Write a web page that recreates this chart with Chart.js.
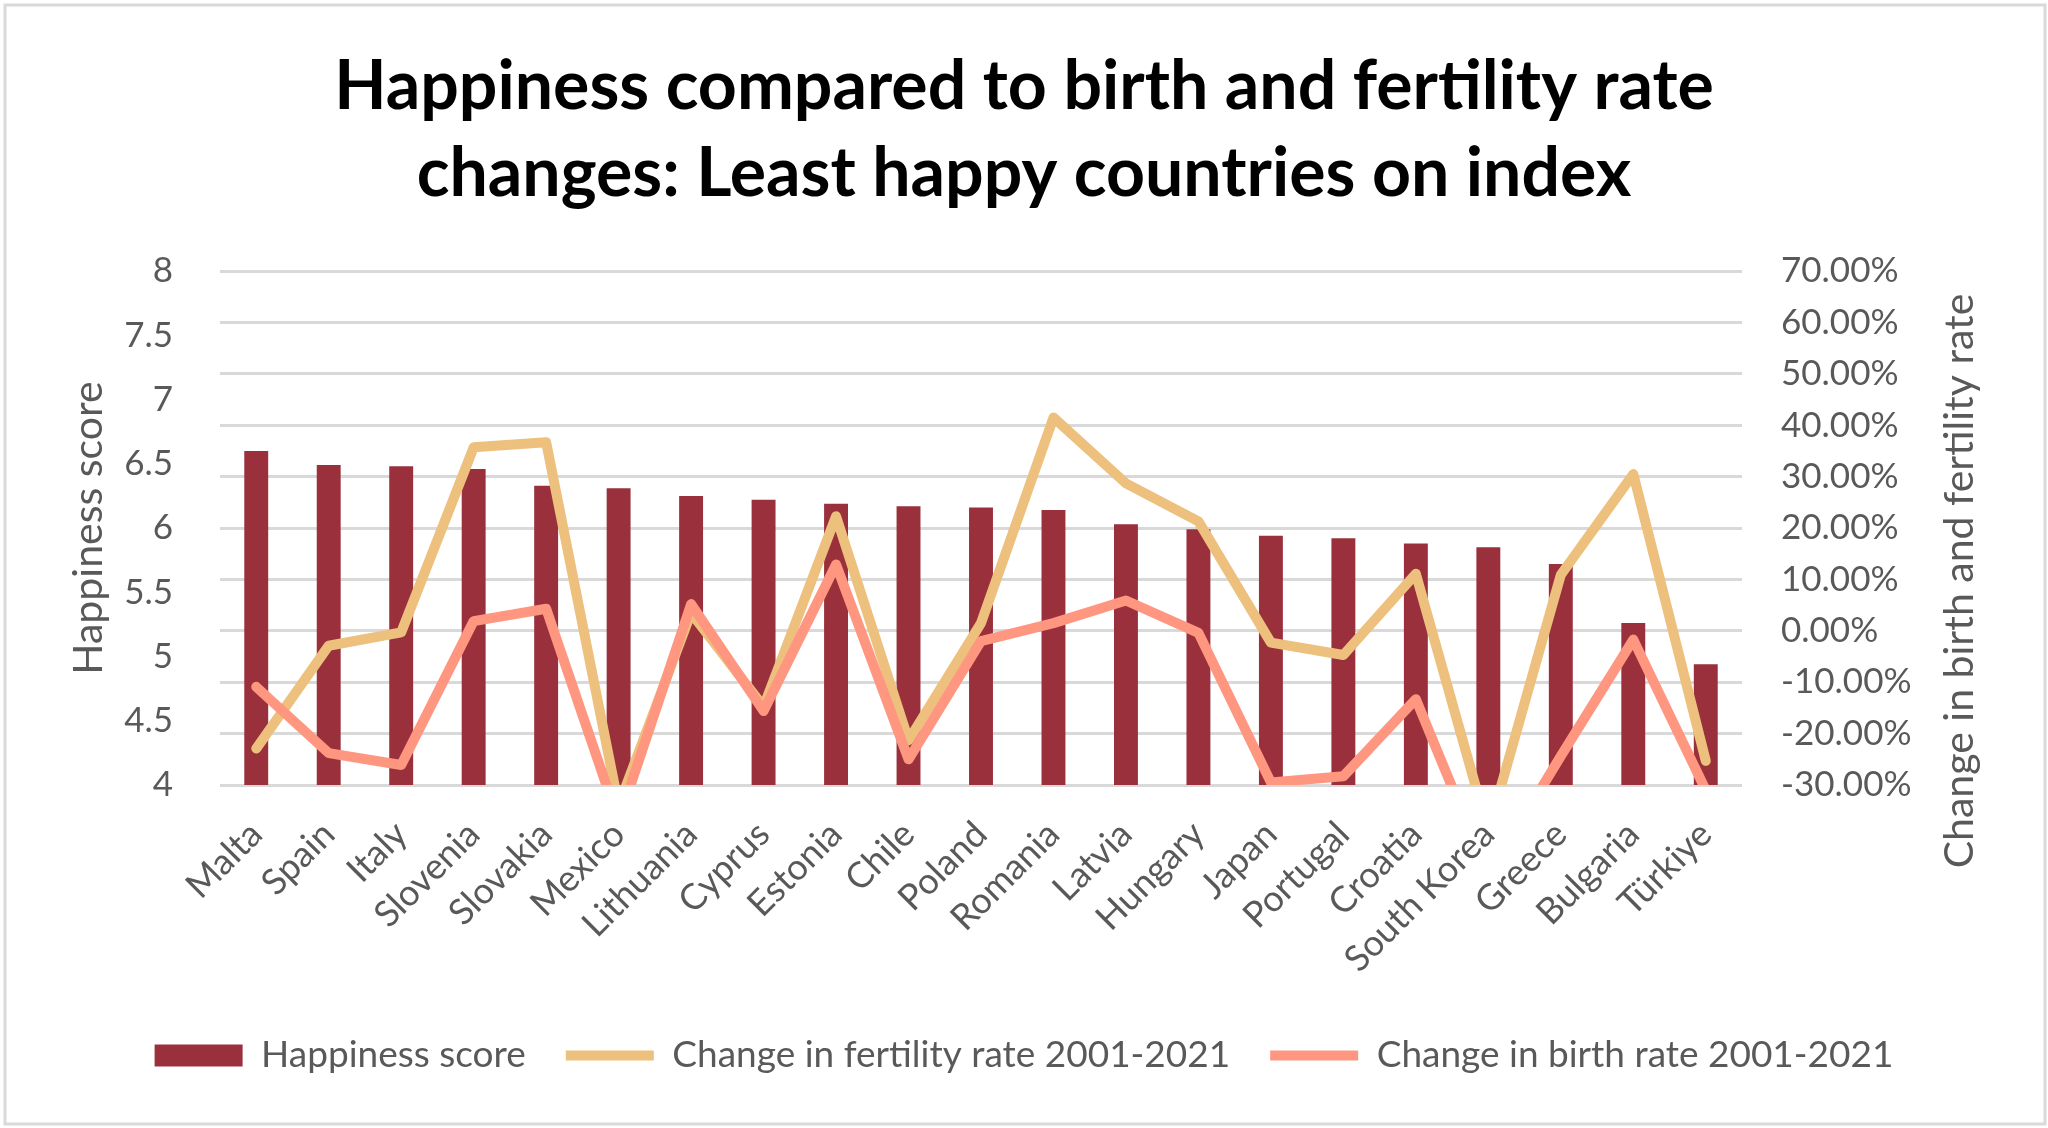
<!DOCTYPE html>
<html>
<head>
<meta charset="utf-8">
<title>Happiness compared to birth and fertility rate changes</title>
<script src="https://cdn.jsdelivr.net/npm/chart.js@4.4.1/dist/chart.umd.min.js"></script>
<style>
  html, body { margin: 0; padding: 0; background: #ffffff; }
  #wrap { position: relative; width: 2048px; height: 1128px; }
</style>
</head>
<body>
<div id="wrap"><canvas id="happinessChart"></canvas></div>
<script>
// Countries, least happy end of the index
const countries = ['Malta', 'Spain', 'Italy', 'Slovenia', 'Slovakia', 'Mexico', 'Lithuania',
    'Cyprus', 'Estonia', 'Chile', 'Poland', 'Romania', 'Latvia', 'Hungary', 'Japan',
    'Portugal', 'Croatia', 'South Korea', 'Greece', 'Bulgaria', 'Türkiye'];

// Happiness score (left axis)
const happinessScore = [6.60, 6.49, 6.48, 6.46, 6.33, 6.31, 6.25, 6.22, 6.19, 6.17, 6.16,
    6.14, 6.03, 5.99, 5.94, 5.92, 5.88, 5.85, 5.72, 5.26, 4.94];

// Change in fertility rate 2001-2021, percent (right axis)
const fertilityChange = [-22.9, -2.9, -0.3, 35.7, 36.7, -34.0, 3.5, -14.8, 22.3, -21.3, 1.5,
    41.5, 28.7, 21.3, -2.3, -4.7, 11.1, -39.0, 10.9, 30.5, -25.3];

// Change in birth rate 2001-2021, percent (right axis)
const birthChange = [-10.9, -23.8, -26.1, 1.9, 4.3, -37.0, 5.2, -15.6, 12.9, -25.0, -2.0,
    1.5, 5.9, -0.4, -29.5, -28.3, -13.3, -47.5, -24.4, -1.7, -31.0];

const titleLines = ['Happiness compared to birth and fertility rate',
    'changes: Least happy countries on index'];
const leftAxisTitle = 'Happiness score';
const rightAxisTitle = 'Change in birth and fertility rate';

const FONT = 'Lato, "Open Sans", sans-serif';
const GREY_TEXT = '#595959';

// Light frame round the whole picture
const framePlugin = {
    id: 'frame',
    beforeDraw(chart) {
        const ctx = chart.ctx;
        ctx.save();
        ctx.strokeStyle = '#d9d9d9';
        ctx.lineWidth = 3;
        ctx.strokeRect(5, 5, chart.width - 8, chart.height - 9);
        ctx.restore();
    }
};

// Right axis title reads bottom to top, which Chart.js does not do itself
const rightTitlePlugin = {
    id: 'rightTitle',
    afterDraw(chart) {
        const ctx = chart.ctx;
        ctx.save();
        ctx.translate(1960, 581);
        ctx.rotate(-Math.PI / 2);
        ctx.font = '41px ' + FONT;
        ctx.fillStyle = GREY_TEXT;
        ctx.textAlign = 'center';
        ctx.textBaseline = 'middle';
        ctx.fillText(rightAxisTitle, 0, 0);
        ctx.restore();
    }
};

const ctx = document.getElementById('happinessChart').getContext('2d');

new Chart(ctx, {
    type: 'bar',
    data: {
        labels: countries,
        datasets: [
            {
                type: 'bar',
                label: 'Happiness score',
                data: happinessScore,
                backgroundColor: '#99303c',
                borderWidth: 0,
                barPercentage: 0.33,
                categoryPercentage: 1,
                yAxisID: 'y',
                pointStyle: 'rect',
                order: 2
            },
            {
                type: 'line',
                label: 'Change in fertility rate 2001-2021',
                data: fertilityChange,
                borderColor: '#edc07e',
                backgroundColor: '#edc07e',
                borderWidth: 10,
                borderJoinStyle: 'round',
                borderCapStyle: 'round',
                pointRadius: 0,
                pointStyle: 'line',
                tension: 0,
                clip: 0,
                yAxisID: 'y1',
                order: 1
            },
            {
                type: 'line',
                label: 'Change in birth rate 2001-2021',
                data: birthChange,
                borderColor: '#ff9680',
                backgroundColor: '#ff9680',
                borderWidth: 10,
                borderJoinStyle: 'round',
                borderCapStyle: 'round',
                pointRadius: 0,
                pointStyle: 'line',
                tension: 0,
                clip: 0,
                yAxisID: 'y1',
                order: 0
            }
        ]
    },
    options: {
        responsive: true,
        maintainAspectRatio: false,
        animation: false,
        layout: {
            padding: { top: 0, left: 0, right: 0, bottom: 44 }
        },
        plugins: {
            title: {
                display: true,
                text: titleLines,
                color: '#000000',
                font: { family: FONT, size: 68, weight: 'bold', lineHeight: 1.28 },
                padding: { top: 44, bottom: 53 }
            },
            legend: {
                position: 'bottom',
                labels: {
                    usePointStyle: true,
                    pointStyleWidth: 88,
                    boxHeight: 22,
                    padding: 40,
                    color: GREY_TEXT,
                    font: { family: FONT, size: 37 },
                    sort: (a, b) => a.datasetIndex - b.datasetIndex
                }
            },
            tooltip: { enabled: false }
        },
        scales: {
            x: {
                grid: { display: false },
                border: { display: false },
                ticks: {
                    color: GREY_TEXT,
                    font: { family: FONT, size: 36 },
                    minRotation: 45,
                    maxRotation: 45,
                    autoSkip: false,
                    padding: 20
                },
                afterFit: (scale) => { scale.height = 212; }
            },
            y: {
                position: 'left',
                min: 4,
                max: 8,
                grid: { display: false },
                border: { display: false },
                ticks: {
                    stepSize: 0.5,
                    color: GREY_TEXT,
                    font: { family: FONT, size: 35 },
                    padding: 39,
                    callback: (value) => String(value)
                },
                title: {
                    display: true,
                    text: leftAxisTitle,
                    color: GREY_TEXT,
                    font: { family: FONT, size: 41 },
                    padding: { top: 64, bottom: 0 }
                },
                afterFit: (scale) => { scale.width = 220; }
            },
            y1: {
                position: 'right',
                min: -30,
                max: 70,
                grid: {
                    color: '#d9d9d9',
                    lineWidth: 3,
                    drawTicks: false
                },
                border: { display: false },
                ticks: {
                    stepSize: 10,
                    color: GREY_TEXT,
                    font: { family: FONT, size: 35 },
                    padding: 39,
                    callback: (value) => value.toFixed(2) + '%'
                },
                afterFit: (scale) => { scale.width = 306; }
            }
        }
    },
    plugins: [framePlugin, rightTitlePlugin]
});
</script>
</body>
</html>
